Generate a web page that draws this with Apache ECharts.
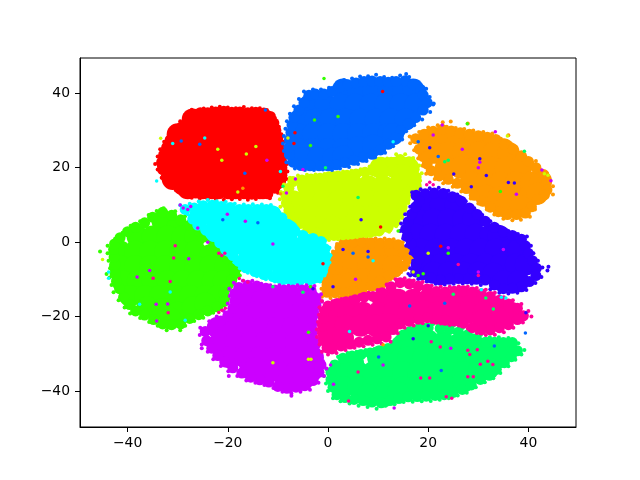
<!DOCTYPE html>
<html><head><meta charset="utf-8">
<style>html,body{margin:0;padding:0;background:#fff}#c{width:640px;height:480px}</style>
<script src="https://cdn.jsdelivr.net/npm/echarts@6/dist/echarts.min.js"></script>
</head><body><div id="c"></div>
<script>
const xTicks=[-40,-20,0,20,40];
const yTicks=[-40,-20,0,20,40];
const classNames=['red','orange','yellow','lime','spring','cyan','blue','violet','purple','pink'];
const classColors=['#ff0000','#ff9900','#ccff00','#33ff00','#00ff66','#00ffff','#0066ff','#3300ff','#cc00ff','#ff0099'];

const redCore=[[-27,33],[-24,33],[-21,33],[-18,33],[-15,33],[-13,33],[-30,29],[-27,29],[-24,29],[-21,29],[-18,29],[-15,29],[-12,29],[-31,25],[-28,25],[-25,25],[-22,25],[-19,25],[-16,25],[-13,25],[-11,25],[-32,21],[-29,21],[-26,21],[-23,21],[-20,21],[-17,21],[-14,21],[-11,21],[-31,17],[-28,17],[-25,17],[-22,17],[-19,17],[-16,17],[-13,17],[-10.5,17],[-28,14.5],[-25,14.5],[-22,14.5],[-19,14.5],[-16,14.5],[-13,14.5]];
const redRim=[[-25.5,34.8],[-24,34.8],[-22.4,35],[-20.8,35.2],[-19.2,34.9],[-17.6,35],[-16,34.8],[-14.4,34.9],[-12.8,34.7],[-11.5,33.8],[-10.8,32],[-10.4,30],[-10,28],[-9.8,26],[-9.5,24],[-9.3,22],[-9.2,20],[-9.2,18],[-9.6,16],[-10.6,14.5],[-12,13],[-13.6,13],[-15.2,12.9],[-16.8,13],[-18.4,13],[-20,13],[-21.6,13.1],[-23.2,13],[-24.8,13.1],[-26.4,13.2],[-28,13.3],[-29.6,14.3],[-31,15.7],[-32.3,17.5],[-33,19.5],[-33.2,21.5],[-32.8,23.5],[-32.2,25.5],[-31.5,27.5],[-30.3,29.3],[-29.2,31],[-28,32.6],[-27,34]];
const redFringe=[[-24.8,35.9],[-23.2,36.2],[-21.6,36.4],[-20,36.2],[-18.4,36],[-16.8,36.3],[-15.2,36],[-13.6,36],[-12.2,35.5],[-10.6,33.4],[-9.8,31],[-9.3,29],[-8.9,27],[-8.7,25],[-8.4,23],[-8.2,21],[-8.1,19],[-8.3,17],[-8.8,15.2],[-10,13.3],[-11.6,11.8],[-14.4,11.6],[-16,11.4],[-17.6,11.6],[-19.2,11.5],[-20.8,11.4],[-22.4,11.6],[-24,11.5],[-25.6,11.7],[-27.2,11.9],[-29,12.7],[-30.4,14],[-31.8,15.4],[-33.2,17.3],[-34,19.5],[-34.5,21],[-34,23],[-33.5,25],[-32.7,27],[-31.7,29],[-30.6,30.7],[-29.5,32.5],[-28.5,34.2],[-27.2,35.6]];

const blueCore=[[3,41],[6,41],[9,41],[12,41],[15,41],[17,41],[-3.5,37],[-0.5,37],[2.5,37],[5.5,37],[8.5,37],[11.5,37],[14.5,37],[17.5,37],[-5.5,33],[-2.5,33],[0.5,33],[3.5,33],[6.5,33],[9.5,33],[12.5,33],[15.5,33],[-6,29],[-3,29],[0,29],[3,29],[6,29],[9,29],[12,29],[13,29],[-6,25],[-3,25],[0,25],[3,25],[6,25.5],[9,26],[-5,22.5],[-2,22.5],[1,22.5],[3,23]];
const blueRim=[[15.4,43.4],[17,42.3],[18.5,41],[19,39.5],[19.8,37.5],[19,35.5],[17.5,33.5],[16,31.8],[14.5,30],[13.5,28],[12,26.3],[10.5,24.8],[8.8,23.6],[7,22.8],[5.2,22],[3.4,21.4],[1.6,20.8],[0,20.5],[-1.8,20.5],[-3.6,20.5],[-5.4,20.6],[-7,21.5],[-7.7,23.5],[-7.8,25.5],[-7.7,27.5],[-7.4,29.5],[-7.2,31.5],[-6.8,33.5],[-5.8,35.5],[-4.8,37.5],[-3.8,39.5],[-2.5,39.8],[-0.8,39.8],[0.8,40.5],[2.4,41.6],[4,42.3],[5.6,42.8],[7.2,43.2],[8.8,43.3],[10.4,43.2],[12,43],[13.6,43.2]];
const blueFringe=[[16.2,44.4],[18,42.8],[19.6,41.2],[20.3,39],[21,37],[20.4,35],[18.8,33],[17.2,31.4],[15.6,29.8],[14.8,27.6],[13,25.8],[11.4,24],[9.4,22.8],[7.7,21.8],[6,21],[4.2,20.2],[2.4,19.8],[0.8,19.4],[-1,19.5],[-2.8,19.4],[-4.6,19.4],[-6.6,19.8],[-8.3,21.5],[-8.8,24.5],[-9,26.5],[-8.8,28.5],[-8.5,30.5],[-8.2,32.5],[-7.6,34.5],[-6.8,36.5],[-5.8,38.5],[-4.8,40.5],[-3,41],[-1.4,41],[0.2,41.5],[1.8,42.8],[3.2,43.6],[4.8,44],[6.4,44.5],[8,44.6],[9.6,45],[11.2,44.4],[12.8,44.2],[14.4,44.8],[15.6,45.2],[21.1,37.3]];

const yellowCore=[[10.5,20],[13.5,20],[16,20],[-4,15],[-1,15],[2,15],[5,15],[8,15],[11,15],[14,15],[16.5,15],[-7,11],[-4,11],[-1,11],[2,11],[5,11],[8,11],[11,11],[13.5,11],[-6,7],[-3,7],[0,7],[3,7],[6,7],[9,7],[12,7],[-2,4],[1,4],[4,4],[7,4.3],[10,5]];
const yellowRim=[[9,19.2],[10.8,20.4],[12.6,21.5],[14.4,22.2],[16.2,21.6],[17.2,19.6],[17.6,17.5],[17,15.5],[16,13.5],[15.4,11.5],[14.8,9.5],[14.2,7.5],[13.4,5.5],[12,4],[10.2,3],[8.4,2.6],[6.6,2.6],[4.8,2.2],[3,2],[1.2,1.8],[-0.6,1.8],[-2.4,2.6],[-4,3.7],[-5.6,5],[-7,6.5],[-7.8,8.5],[-8.3,10.5],[-8.4,12.5],[-7.8,14.5],[-7,16.3],[-5.2,16.7],[-3.4,17],[-1.6,17.2],[0.2,17.6],[2,17.8],[3.8,18],[5.6,18.3],[7.4,18.8]];
const yellowFringe=[[10,21.3],[11.8,22.5],[13.6,23.6],[15.4,23.6],[17,22.6],[18.2,20.6],[18.7,18.5],[18.4,16.5],[17.4,14.5],[16.6,12.5],[16,10.5],[15.4,8.5],[14.8,6.5],[13.6,4.3],[12.2,2.8],[9.4,2],[7.6,1.6],[5.8,1.4],[4,1.1],[2,0.8],[0.2,0.6],[-1.6,0.8],[-3.4,1.7],[-5,2.9],[-6.6,4],[-8,5.6],[-9,7.5],[-9.5,9.5],[-9.6,11.5],[-9.4,13.5],[-8.8,15.5],[-7.6,17.3],[-6,17.9],[-4.2,18.1],[-2.5,18.2],[-0.7,18.3],[1,18.7],[3,19],[4.7,19.2],[6.5,19.6],[8.3,20.3]];

const orangeCore=[[20,27.5],[23,27.5],[26,27.5],[29,26],[32,26],[35,25],[21,24],[24,24],[27,24],[30,24],[33,24],[36,24],[23.5,20],[26.5,20],[29.5,20],[32.5,20],[35.5,20],[38.5,20],[28.5,16],[31.5,16],[34.5,16],[37.5,16],[40.5,16],[42.5,16.5],[31.5,12.5],[34,12],[37,12],[40,12],[41.8,13],[35.5,9.5],[38.5,9.5],
[4,-2.5],[7,-2.5],[10,-2.5],[13.5,-2.5],[2,-6.5],[5,-6.5],[8,-6.5],[11,-6.5],[13,-6.5],[1,-10],[4,-10],[7,-10],[10,-10],[1.5,-11.5],[4.5,-11]];
const orangeRim=[[17.5,27.8],[19.2,29],[21,29.8],[22.8,30.3],[24.6,29.9],[26.4,29.4],[28.2,29],[30,28.6],[31.8,28.2],[33.5,27.6],[35.2,26.3],[37,25],[38.6,23.2],[40,21.7],[41.5,20],[43,18.2],[43.6,16],[43.7,14],[43.2,12.7],[41.8,11.5],[40.6,9.5],[39.4,7.8],[37.6,7.4],[35.8,7.4],[34,8.2],[32.4,9.4],[30.8,11],[29.2,12.6],[27.6,14.4],[25.8,15.8],[24,16.9],[22.2,17.8],[20.6,19.2],[19.8,21],[19,23],[18.2,25],
[3.2,-0.2],[5,0],[6.8,0],[8.6,-0.2],[10.4,-0.3],[12.2,-0.3],[14,-0.7],[15.2,-2.5],[16,-4.5],[15,-6.5],[13.6,-8],[12,-9.2],[10.4,-10.5],[8.6,-11.8],[6.8,-12.7],[5,-13.2],[3.2,-13.5],[1.4,-13.6],[-0.2,-13.5],[-0.2,-11.5],[-0.1,-9.5],[0.4,-7.5],[1,-5.5],[1.6,-3.5],[2.4,-1.5]];
const orangeFringe=[[16.3,28.4],[18.2,29.6],[20,30.8],[21.9,31.4],[23.7,31],[25.5,30.7],[27.2,30.4],[29,30],[31,29.6],[32.8,29.2],[34.5,27.8],[36,26.6],[37.8,24.8],[39.4,23],[40.8,21.3],[42.3,19.5],[44,17],[44.9,15],[44.9,12.8],[42.6,11],[41.3,8.8],[40.3,6.8],[38.5,6],[36.8,5.9],[35,6.3],[33.2,7.4],[31.7,8.8],[30,10.4],[28.5,11.7],[26.6,13.6],[24.9,14.9],[23,15.8],[21.3,17],[19.6,18.4],[18.9,20.5],[18,22.5],[17.2,24.7],[16.4,26.6],[22.9,32.2],[24.5,32.4],[36,28.7],[41.5,21.8],[43.7,18.5],[27.9,31.9],
[4,1],[5.9,1.2],[7.7,1.1],[9.5,1],[11.3,1],[13.1,0.8],[14.9,0],[16.3,-2],[17,-4.4],[16,-6.2],[14.6,-8],[13,-9.6],[11.4,-11],[9.4,-12.6],[7.7,-13.6],[5.9,-14.2],[4.1,-14.6],[2.3,-14.9],[0.5,-15],[-1.2,-14.7],[-1.3,-12.5],[-1.2,-10.5],[-0.8,-8.5],[-0.3,-6.5],[0.3,-4.5],[1,-2.5],[1.8,-0.5]];

const violetCore=[[19.5,10],[22.5,10],[25.5,10],[18,6],[21,6],[24,6],[27,6],[29,6],[17.5,2],[20.5,2],[23.5,2],[26.5,2],[29.5,2],[32.5,2],[34,1.7],[18.5,-2],[21.5,-2],[24.5,-2],[27.5,-2],[30.5,-2],[33.5,-2],[36.5,-2],[38,-2],[19.5,-6],[22.5,-6],[25.5,-6],[28.5,-6],[31.5,-6],[34.5,-6],[37.5,-6],[39.5,-6],[21,-8.2],[24,-8.2],[27,-8.2],[30,-8.2],[33,-8.5],[35,-10.5],[38,-10.5]];
const violetRim=[[17.6,12.6],[19.4,13],[21.2,13.2],[23,13.1],[24.8,12.2],[26.6,11],[28.2,9.2],[29.8,7.4],[31.4,5.6],[33.2,4],[35,2.7],[36.8,1.8],[38.6,0.8],[39.4,-1],[40,-3],[40.8,-5],[41.6,-7],[41.5,-9],[40.2,-10.6],[38.6,-12],[36.8,-12.4],[35,-12.5],[33.2,-11.5],[31.4,-10.2],[29.6,-10],[27.8,-9.9],[26,-9.8],[24.2,-10],[22.4,-10.2],[20.6,-9.6],[18.8,-8.9],[17.5,-8],[17.6,-6],[18.2,-4.5],[17.4,-2.5],[16.6,-0.5],[15.8,1.5],[15.5,3.5],[16,5.5],[16.7,7.5],[17.5,9.5],[18.2,11]];
const violetFringe=[[16.8,13.4],[18.5,14.2],[20.3,14.5],[22.1,14.6],[24,13.8],[25.8,12.8],[27.5,11],[29.2,9.1],[30.8,7.3],[32.4,5.6],[34.2,4.1],[36,3],[37.9,2.2],[39.7,1.5],[40.5,-1],[41,-3],[41.9,-5],[42.8,-6.8],[44,-6.6],[43.8,-7.6],[42.6,-9.4],[41.4,-11],[39.6,-12.9],[37.8,-13.6],[36,-13.8],[34.2,-13.6],[32.4,-12.7],[30.5,-11.5],[28.7,-11.2],[26.9,-11.1],[25.1,-11.2],[23.3,-11.4],[21.5,-11.2],[19.7,-10.6],[18,-9.9],[16.4,-9],[16.4,-7],[17,-5],[16.5,-3],[15.6,-1],[15,1],[14.4,3],[14.6,5],[15.4,7.5],[16.4,9.5],[17,12]];

const pinkCore=[[11,-15.5],[14,-15.5],[17,-15.5],[20,-15.5],[23,-15.5],[26,-15.5],[29,-15.5],[32,-17.5],[1,-19],[4,-19],[7,-19],[10,-19],[13,-19],[16,-19],[19,-18.5],[22,-18.8],[25,-19],[28,-19],[31,-19],[34,-19],[36.5,-19],[31,-21],[34,-20.5],[0.5,-22.5],[3.5,-22.5],[6.5,-22.5],[9.5,-22.5],[12,-22],[0.5,-25.8],[3,-25.8]];
const pinkRim=[[0,-17.2],[1.8,-16.5],[3.6,-16],[5.4,-15.5],[7.2,-14.8],[9,-14.6],[10.8,-13.6],[12.6,-12],[14.4,-10.9],[16.2,-11.2],[18,-11.8],[19.8,-12.6],[21.6,-13.3],[23.4,-13.4],[25.2,-13.2],[27,-13.1],[28.8,-13.4],[30.6,-13.9],[32.4,-14.6],[34.2,-15.6],[36,-16.6],[37.8,-17.8],[39,-19.8],[37.8,-20.8],[36,-22.2],[34.2,-23],[32.4,-23.6],[30.6,-23.6],[28.8,-23],[27,-21.8],[25.2,-21.2],[23.4,-21],[21.6,-20.7],[19.8,-20.3],[18,-20.7],[16.2,-21.3],[14.4,-22],[13,-23.5],[11.6,-25.5],[9.8,-26],[8,-26.4],[6.2,-26.9],[4.4,-27.4],[2.6,-27.9],[0.8,-28.7],[-0.2,-28.4],[-0.9,-26.5],[-1.1,-24.5],[-1.1,-22.5],[-0.9,-20.5],[-0.7,-18.5]];
const pinkFringe=[[0.9,-15.9],[2.7,-15.3],[4.5,-14.9],[6.3,-14.3],[8.1,-13.6],[9.9,-12.9],[11.7,-11.4],[13.5,-10],[15.3,-9.7],[17.1,-10.3],[18.9,-10.7],[20.7,-11.7],[22.5,-12],[24.3,-12],[26.1,-11.9],[27.9,-12],[29.7,-12.3],[31.5,-12.8],[33.3,-13.6],[35.1,-14.8],[36.9,-15.6],[38.6,-16.6],[40,-18.5],[40.6,-20],[38.9,-21.6],[37,-23],[35.1,-24.2],[33.3,-24.9],[31.5,-25],[29.7,-24.4],[27.9,-23.2],[26.1,-22.4],[24.3,-22.3],[22.5,-21.9],[20.7,-21.5],[18.9,-21.8],[17.1,-22.4],[15.3,-23],[13.9,-24.5],[12.5,-26.8],[10.7,-27.3],[8.9,-27.6],[7.1,-28],[5.3,-28.4],[3.5,-29],[1.7,-29.8],[0,-30.2],[-1.2,-29.5],[-1.7,-27.5],[-2.2,-25.5],[-2.2,-23.5],[-2,-21.5],[-1.8,-19.5],[-1.7,-17.5],[-1.2,-15.8]];

const springCore=[[17,-26.5],[20,-26.5],[23,-27],[26,-27.5],[15,-27.5],[29,-27.5],[32,-28.5],[35,-28.7],[10,-31],[13,-31],[16,-31],[19,-31],[22,-31],[25,-31],[28,-31],[31,-31],[34,-31],[5,-32.5],[3,-35],[6,-35],[9,-35],[12,-35],[15,-35],[18,-35],[21,-35],[24,-35],[27,-35],[30,-35],[32,-34],[3,-39],[6,-39],[9,-39],[12,-39],[15,-39],[18,-39],[21,-39],[24,-39],[27,-37.5],[8,-41],[11,-41.5],[14,-40.5]];
const springRim=[[20,-23],[18.2,-23.2],[16.4,-24],[15,-25],[13.8,-27],[12,-28.6],[10.2,-29.2],[8.4,-29.8],[6.6,-30.2],[4.8,-30.6],[3,-31.2],[1.4,-33],[0.6,-35],[0.6,-37],[1,-39],[1.8,-41],[3.4,-41.8],[5.2,-42.3],[7,-42.6],[8.8,-43],[10.6,-43.2],[12.4,-42.6],[14.2,-42],[16,-41.6],[17.8,-41.5],[19.6,-41.4],[21.4,-41.2],[23.2,-41],[25,-40.4],[26.8,-39.6],[28.6,-38.4],[30.4,-36.9],[32.2,-35.8],[33.6,-34.2],[35.2,-32.4],[36.6,-30.8],[37.8,-29.2],[36.8,-27],[35,-27],[33.2,-26.9],[31.4,-26.9],[29.6,-26.2],[27.8,-25],[26,-24.2],[24.2,-23.5],[22.4,-23.2]];
const springFringe=[[21,-22],[19,-22.1],[17.2,-22.7],[15.6,-23.6],[14.5,-26],[12.8,-27.5],[11,-28.2],[9.3,-28.7],[7.5,-29],[5.7,-29.5],[3.9,-29.8],[2,-30.8],[0.9,-32.3],[-0.3,-34.2],[-0.8,-36],[-0.4,-38],[0,-40],[1,-42],[2.5,-42.8],[4.3,-43.4],[6.1,-44],[7.9,-44.3],[9.7,-44.8],[11.5,-44],[13.3,-43.6],[15.1,-43],[16.9,-42.9],[18.7,-42.8],[20.5,-42.7],[22.3,-42.4],[24.1,-42],[25.9,-41.2],[27.7,-40.5],[29.5,-39],[31.3,-37.7],[33,-36.6],[34.4,-35.2],[36,-33.4],[37.4,-31.6],[38.6,-30.2],[39.2,-29],[38,-27.2],[36,-25.8],[34.1,-25.6],[32.3,-25.6],[30.5,-25],[28.7,-23.9],[26.9,-23.1],[25.1,-22.4],[23.3,-22.1]];

const purpleCore=[[-16,-15],[-13,-15],[-10,-15],[-7,-15],[-4,-15],[-17.5,-19],[-14.5,-19],[-11.5,-19],[-8.5,-19],[-5.5,-19],[-4,-19],[-22,-23],[-19,-23],[-16,-23],[-13,-23],[-10,-23],[-7,-23],[-4.5,-23],[-21.5,-27],[-18.5,-27],[-15.5,-27],[-12.5,-27],[-9.5,-27],[-6.5,-27],[-4,-27],[-19.5,-31],[-16.5,-31],[-13.5,-31],[-10.5,-31],[-7.5,-31],[-4.5,-31],[-3,-31],[-15.5,-34],[-12.5,-35],[-9.5,-35],[-6.5,-35],[-3.5,-35],[-14.5,-34],[-8,-37.5],[-5,-37]];
const purpleRim=[[-17.8,-12.2],[-16,-11.6],[-14.2,-11.8],[-12.4,-12.4],[-10.6,-12.9],[-8.8,-12.9],[-7,-12.9],[-5.2,-12.9],[-3.4,-13],[-2.4,-15],[-2.4,-17],[-3,-19],[-3.2,-21],[-3.3,-23],[-3.2,-25],[-3,-27],[-2.8,-29],[-2.2,-31],[-1.4,-33],[-1.8,-35],[-3,-37.2],[-4.6,-38.6],[-6.4,-39],[-8.2,-39.3],[-10,-38.8],[-11.8,-37.6],[-13.6,-37],[-15.4,-36.3],[-17.2,-35.2],[-19,-33.8],[-20.6,-32.2],[-22,-30.5],[-23.2,-28.5],[-24.2,-26.5],[-24.5,-24],[-23,-22.6],[-21.4,-21.2],[-20,-19.8],[-19,-17.8],[-18.6,-15.8],[-18.6,-13.8]];
const purpleFringe=[[-18.8,-10.9],[-17,-10.4],[-15.1,-10.4],[-13.3,-11.2],[-11.5,-11.6],[-9.7,-11.6],[-7.9,-11.7],[-6.1,-11.6],[-4.3,-11.6],[-2.7,-11.8],[-1.4,-14],[-1.2,-16],[-1.6,-18],[-2.1,-20],[-2.2,-22],[-2.4,-24],[-2.1,-26],[-1.9,-28],[-1.6,-30],[-1,-32],[-0.3,-34],[-0.8,-36],[-1.9,-37.8],[-3.6,-39.7],[-5.5,-40.2],[-7.3,-40.7],[-9.1,-40.2],[-10.9,-39.2],[-12.7,-38.4],[-14.5,-37.8],[-16.3,-37.2],[-18.1,-36],[-19.9,-34.7],[-21.4,-33.3],[-22.9,-31.5],[-24,-29.5],[-25.2,-27.5],[-25.6,-25],[-25.5,-23],[-23.7,-21.3],[-22.2,-20],[-20.8,-18.5],[-20,-16.5],[-19.6,-14.5],[-19.7,-12.5],[-7.3,-41.3],[-25.2,-28.5],[-19.8,-36]];

const limeCore=[[-33,5.5],[-30,4],[-38,1.5],[-35,1.5],[-32,1.5],[-29,1.5],[-26.5,1.5],[-41.5,-2.5],[-38.5,-2.5],[-35.5,-2.5],[-32.5,-2.5],[-29.5,-2.5],[-26.5,-2.5],[-23.5,-3.5],[-41.5,-6.5],[-38.5,-6.5],[-35.5,-6.5],[-32.5,-6.5],[-29.5,-6.5],[-26.5,-6.5],[-23.5,-6.5],[-20.5,-6.5],[-41,-10.5],[-38,-10.5],[-35,-10.5],[-32,-10.5],[-29,-10.5],[-26,-10.5],[-23,-10.5],[-20.8,-10.5],[-39.5,-14.5],[-36.5,-14.5],[-33.5,-14.5],[-30.5,-14.5],[-27.5,-14.5],[-24.5,-14.5],[-22,-14.5],[-36,-17.5],[-33,-18],[-30,-19],[-27,-17.5],[-24.5,-16.5],[-31.5,-20.5]];
const limeRim=[[-33,8],[-31.2,7.2],[-29.4,6],[-27.6,4.6],[-25.8,3],[-24.2,1.4],[-22.8,-0.5],[-21.4,-2.5],[-20,-4.5],[-18.8,-6.5],[-18.6,-8.5],[-19.2,-10.2],[-20.4,-12],[-20.8,-14],[-20.8,-16],[-22.2,-17.4],[-24,-18.5],[-25.8,-19.5],[-27.6,-20.5],[-29.4,-22],[-31.2,-22.2],[-33,-22],[-34.8,-20.8],[-36.6,-19.6],[-38.4,-18.5],[-39.6,-16.8],[-40.8,-14.8],[-41.6,-12.5],[-42.2,-10.5],[-42.5,-8.5],[-42.5,-6],[-42.7,-4],[-42.8,-2],[-42.6,-0.5],[-41.5,1.2],[-40,2.8],[-38.4,4],[-36.6,5.2],[-35,6.7]];
const limeFringe=[[-32.8,9.1],[-30.5,8.3],[-28.5,7],[-26.7,5.6],[-25,4.3],[-23.4,2.5],[-22,0.6],[-20.6,-1.5],[-19.2,-3.5],[-18,-5.5],[-17.6,-7.5],[-17.6,-9],[-18.6,-11.2],[-19.6,-13],[-19.9,-15.2],[-21.3,-17.6],[-22.9,-19],[-24.9,-20.3],[-26.7,-21.2],[-28.5,-22.5],[-29.5,-23.7],[-32.2,-23.7],[-34,-22.5],[-35.7,-21.5],[-37.5,-20.4],[-39.5,-19.2],[-40.6,-17.6],[-41.8,-15.6],[-42.8,-13.5],[-43.2,-11.5],[-43.6,-9.5],[-43.5,-7],[-43.8,-5],[-44,-3],[-44,-1],[-42.5,0.9],[-41,2.5],[-39.4,4.4],[-37.5,5.6],[-35.8,7.3],[-34.2,8.4],[-45.5,-2.5],[-44.2,-8.6]];

const cyanCore=[[-25.5,7],[-22.5,7],[-19.5,7],[-16.5,7],[-13.5,7],[-11.5,7],[-22.5,3],[-19.5,3],[-16.5,3],[-13.5,3],[-10.5,3],[-8,3],[-19.5,-1],[-16.5,-1],[-13.5,-1],[-10.5,-1],[-7.5,-1],[-4.5,-1],[-2.5,-2.5],[-16,-5],[-13,-5],[-10,-5],[-7,-5],[-4,-5],[-2,-5],[-9,-8.5],[-6,-8.5],[-3.5,-8.5],[-13,-6.5]];
const cyanRim=[[-28.5,8.8],[-26.7,9.2],[-24.9,9.8],[-23.1,9.9],[-21.3,9.6],[-19.5,9.3],[-17.7,8.8],[-15.9,8.8],[-14.1,8.8],[-12.3,8.8],[-10.6,8.2],[-9.2,6.5],[-8,4.8],[-6.6,3],[-5,1.8],[-3,1],[-1.4,0.2],[-0.6,-1.8],[-0.4,-3.8],[-0.7,-5.8],[-1.1,-7.8],[-2,-9.5],[-3.8,-10.1],[-5.6,-10.2],[-7.4,-10.1],[-9.2,-9.9],[-11,-9.3],[-12.8,-8.7],[-14.6,-7.9],[-16.4,-6.9],[-17.8,-5.2],[-19,-3.6],[-20.4,-2],[-21.6,-0.2],[-23,1.6],[-24.4,3.2],[-26,4.6],[-27,6.2]];
const cyanFringe=[[-29.5,9.9],[-27.6,10.3],[-25.8,10.9],[-24,11.3],[-22.2,11],[-20.4,10.8],[-18.6,10.3],[-16.8,10.1],[-15,10.2],[-13.2,10.1],[-11.4,10],[-9.7,8],[-8.6,6],[-7.3,4],[-5.7,2.7],[-4,1.7],[-2.2,0.9],[-0.6,0.4],[0.3,-1.5],[0.5,-3.5],[0.3,-5.5],[-0.3,-7],[-0.7,-9],[-1.6,-10.6],[-3.5,-11.2],[-5.3,-11.4],[-7,-11.3],[-8.8,-11],[-10.6,-10.6],[-12.4,-10],[-14.2,-9.2],[-16,-8.2],[-17.6,-7],[-18.7,-5.4],[-20,-3.4],[-21.2,-1.5],[-22.6,0.5],[-24,2.2],[-25.5,3.9],[-27,5.4],[-28,7.5]];

const redStray=[[10.9,40.5],[-6.8,26.5],[-6.6,29.4],[-1,-5.8],[22.5,-1.1],[10.5,4.1]];
const orangeStray=[[11,-27.6],[-9.5,13],[-17,14.5]];
const yellowStray=[[-22,25],[-16.3,23.7],[-14.4,25.7],[-21.2,22],[-33.4,27.9],[-3.9,-31.5],[-3.4,-31.5],[-11,-32.4],[-45,-4.7],[43.9,18],[43.2,18.4],[35.8,28.5],[-8,28],[-18,13.5],[20,-3],[17,-8]];
const limeStray=[[-0.8,44],[-3.5,26],[-2.7,32.8],[-3.9,-24.2],[2,33.8],[34.4,13.6],[27.8,31.8],[18,-9],[19,-8.5],[14,3],[24,-3],[-3.5,-12]];
const springStray=[[39.2,24.4],[23.3,21.6],[24,22],[-0.5,20],[6,12],[31.5,-15],[33,-18],[25,-14],[-9,15],[-11,-12],[-5,-13.5]];
const cyanStray=[[4.3,-24],[34.6,-14.8],[35.5,-15],[30.6,-12.8],[-43.8,-8],[-43.8,-9.7],[-31.5,-13.4],[-37.6,-16.7],[-34.2,16.4],[-24.6,28],[-31,26.5],[-9.5,19],[13,27],[9,-5],[-28.5,-21]];
const blueStray=[[10.1,-30.9],[22.6,-34.5],[33.2,-27.9],[39.4,-24.4],[23.3,-16.4],[16.3,-17.2],[-25.6,26.3],[-29.3,27.2],[-16.6,18.5],[-21,6],[22,23],[-14,5.2],[-12.5,35.5],[18,27],[5,-3],[8,-4]];
const violetStray=[[6.6,6],[20.3,25.4],[25.1,18.3],[28.6,14.9],[30.3,22.4],[37.2,15.9],[36,16],[31.6,17.9],[1,-12],[8,-2.5],[39.5,-19],[17,-26],[20,-22.5],[-3,-12.5],[3,-2],[16,-8.5]];
const purpleStray=[[-12.2,22],[-20.1,7.5],[-16.5,5.6],[-26,3.8],[-8.3,13.2],[-28.9,9.2],[-28,8.8],[-27.4,9.6],[-29.5,10],[-38.1,-9.4],[-35.6,-7.6],[-27.8,-4.5],[-34.3,-16.7],[-32,-16.6],[-34.2,-21.2],[13.2,-44.6],[24.5,-28.5],[11,-33],[0.5,-33],[1.1,-38.2],[33.4,29.7],[42.7,19.4],[44.5,16.5],[26.8,25],[30.3,21.5],[37.6,12.9],[30,20],[-24,0],[-11,-0.5],[5.5,-10],[-6.5,17],[-5,19.5],[21,28.8],[22.8,31.5],[24,-1.5],[30,-8],[35,-2]];
const pinkStray=[[-21.2,-3.6],[-20.6,-3],[-21.8,-3],[-21.2,-18.3],[-20.5,-17.8],[-21.8,-18.9],[-16.9,-10.3],[-16,-10.8],[-17.7,-9.8],[20.3,16.1],[21,15.4],[19.7,15.4],[6,-34.9],[18.5,-36.5],[20.3,-36.5],[23.6,-41.6],[24.7,-42],[4.1,-42.7],[22.4,-28.2],[27.9,-29.1],[28.3,-30.2],[29.8,-28.9],[30.4,-32.8],[31.9,-32],[32.9,-32.9],[27.9,-36.2],[29,-36.2],[20.6,-26.8],[-31.5,-10.6],[-30.8,-4.3],[-34.9,-9.7],[-31.9,-19],[26,-6],[30,-9],[-30.5,-1]];

const coreSets=[redCore,orangeCore,yellowCore,limeCore,springCore,cyanCore,blueCore,violetCore,purpleCore,pinkCore];
const rimSets=[redRim,orangeRim,yellowRim,limeRim,springRim,cyanRim,blueRim,violetRim,purpleRim,pinkRim];
const fringeSets=[redFringe,orangeFringe,yellowFringe,limeFringe,springFringe,cyanFringe,blueFringe,violetFringe,purpleFringe,pinkFringe];
const straySets=[redStray,orangeStray,yellowStray,limeStray,springStray,cyanStray,blueStray,violetStray,purpleStray,pinkStray];

const series=[];
classNames.forEach((n,i)=>{
  const base={type:'scatter',name:n,itemStyle:{color:classColors[i],opacity:1},silent:true};
  series.push({...base,data:coreSets[i],symbolSize:22,z:2});
  series.push({...base,data:rimSets[i],symbolSize:11,z:2});
  series.push({...base,data:fringeSets[i],symbolSize:4,z:2});
  series.push({...base,data:straySets[i],symbolSize:3.5,z:4});
});
const minus=v=>String(v).replace('-','\u2212');
const lab={show:true,color:'#000',fontFamily:'DejaVu Sans',fontSize:13.9,formatter:minus};
const tick={show:true,length:5,lineStyle:{color:'#000',width:1},inside:false};
const chart=echarts.init(document.getElementById('c'),null,{renderer:'canvas'});
chart.setOption({
  animation:false,backgroundColor:'#fff',
  grid:{left:80,right:64,top:58,bottom:53,show:true,borderColor:'#000',borderWidth:1,backgroundColor:'transparent'},
  xAxis:{type:'value',min:-49.5,max:49.5,splitLine:{show:false},axisLine:{show:true,onZero:false,lineStyle:{color:'#000',width:1}},
    axisTick:{...tick,customValues:xTicks},axisLabel:{...lab,margin:9,customValues:xTicks}},
  yAxis:{type:'value',min:-49.7,max:49.5,splitLine:{show:false},axisLine:{show:true,onZero:false,lineStyle:{color:'#000',width:1}},
    axisTick:{...tick,customValues:yTicks},axisLabel:{...lab,margin:10,padding:[2,0,0,0],customValues:yTicks}},
  series
});
</script></body></html>
